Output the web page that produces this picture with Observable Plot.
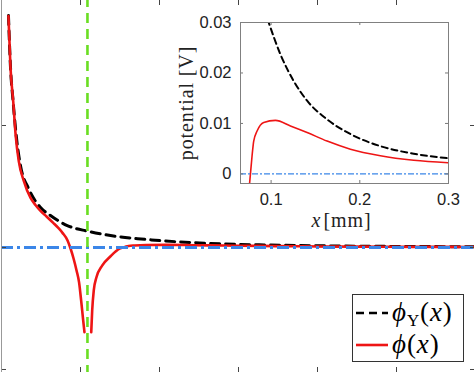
<!DOCTYPE html>
<html><head><meta charset="utf-8">
<script src="https://cdn.jsdelivr.net/npm/d3@7"></script>
<script src="https://cdn.jsdelivr.net/npm/@observablehq/plot@0.6"></script>
<style>
html,body{margin:0;padding:0;background:#fff;}
#wrap{position:relative;width:474px;height:372px;overflow:hidden;background:#fff;}
#main,#inset,#legend{position:absolute;}
#main{left:0;top:0;}
#inset{left:170px;top:0;}
#legend{left:352px;top:294px;width:110px;height:66px;border:1px solid #333;background:#fff;font-family:"Liberation Serif","DejaVu Serif",serif;color:#000;}
#legend .row{position:absolute;left:0;height:30px;width:110px;}
#legend svg{position:absolute;left:2px;top:11px;}
#legend .lab{position:absolute;left:39px;top:0;font-size:27px;line-height:30px;white-space:nowrap;letter-spacing:0.9px;}
#legend sub{font-size:17px;font-style:normal;vertical-align:-5px;line-height:0;}
</style></head><body>
<div id="wrap"><div id="main"></div><div id="inset"></div><div id="legend"></div></div>
<script>
// phi_Y(x): x in mm, potential in V
const phiYX = [0.0044, 0.0057, 0.0073, 0.0099, 0.012, 0.0171, 0.0247, 0.031, 0.0416, 0.0544, 0.069, 0.0861, 0.0973, 0.1105, 0.1255, 0.1406, 0.1631, 0.1894, 0.2232, 0.2608, 0.3];
const phiYV = [0.951, 0.738, 0.602, 0.426, 0.336, 0.242, 0.164, 0.131, 0.090, 0.067, 0.049, 0.036, 0.030, 0.0237, 0.0184, 0.0145, 0.0108, 0.0079, 0.0055, 0.0040, 0.0031];
// phi(x): NaN marks the break at the singular point
const phiX = [0.0044, 0.0057, 0.0074, 0.0089, 0.0109, 0.0141, 0.0184, 0.0215, 0.0247, 0.0285, 0.0329, 0.0361, 0.0386, 0.0418, 0.0437, 0.0456, 0.0475, 0.0491, 0.0504, 0.0517, 0.0525, 0.0546, 0.0568, 0.0574, 0.0584, 0.0601, 0.0637, 0.069, 0.0722, 0.0747, 0.0767, 0.0785, 0.0804, 0.0842, 0.0917, 0.1049, 0.1218, 0.1406, 0.1631, 0.1894, 0.2232, 0.2608, 0.3];
const phiV = [0.949, 0.736, 0.600, 0.465, 0.355, 0.273, 0.203, 0.174, 0.150, 0.127, 0.100, 0.079, 0.060, 0.029, -0.004, -0.045, -0.094, -0.143, -0.217, -0.299, -0.347, NaN, -0.347, -0.258, -0.176, -0.122, -0.074, -0.036, -0.016, -0.0045, 0, 0.0035, 0.0065, 0.0085, 0.0102, 0.0106, 0.0095, 0.0082, 0.0065, 0.0049, 0.0036, 0.0027, 0.0022];
const xMarker = [0.0544];
const baseline = [0];
const mainXDomain = [0, 0.3];
const mainYDomain = [-0.5164, 1.0246];
const mainXTicks = [0.05, 0.1, 0.15, 0.2, 0.25];
const mainYTicks = [-0.5, 0, 0.5];
const insetXDomain = [0.0655, 0.3];
const insetYDomain = [-0.0019, 0.03];
const insetXTicks = [0.1, 0.2, 0.3];
const insetYTicks = [0, 0.01, 0.02, 0.03];
const insetYLabel = "potential [V]";
const insetXLabelVar = "x";
const insetXLabelUnit = "[mm]";
const legendEntries = [
  {html: '<i>ϕ</i><sub>Y</sub>(<i>x</i>)', color: "#000", dash: "8,5"},
  {html: '<i>ϕ</i>(<i>x</i>)', color: "#ee1515", dash: null}
];

const phiY = phiYX.map((x, i) => ({x, v: phiYV[i]}));
const phi = phiX.map((x, i) => ({x, v: phiV[i]}));

const RED = "#ee1515", BLUE = "#3b86e8", GREEN = "#6ade22";
const SERIF = "'Liberation Serif', 'DejaVu Serif', serif";

// main plot
const W = 474, H = 372;
const mTop = -3, mBottom = -1, mLeft = 1, mRight = -1;
const FH = H - mTop - mBottom, FW = W - mLeft - mRight;
const main = Plot.plot({
  width: W, height: H,
  marginLeft: mLeft, marginRight: mRight, marginTop: mTop, marginBottom: mBottom,
  x: {domain: mainXDomain, axis: null},
  y: {domain: mainYDomain, axis: null},
  marks: [
    Plot.line(phiY, {x: "x", y: "v", curve: "monotone-x", stroke: "#000", strokeWidth: 3, strokeDasharray: "9,6"}),
    Plot.line(phi, {x: "x", y: "v", curve: "monotone-x", stroke: RED, strokeWidth: 2.6}),
    Plot.ruleY(baseline, {y: d => d, stroke: BLUE, strokeWidth: 3, strokeDasharray: "12,4,3,4"}),
    Plot.ruleX(xMarker, {x: d => d, stroke: GREEN, strokeWidth: 2.6, strokeDasharray: "10,6"}),
    Plot.ruleX(mainXTicks, {x: d => d, insetBottom: FH - 8, stroke: "#444"}),
    Plot.ruleX(mainXTicks, {x: d => d, insetTop: FH - 6, stroke: "#444"}),
    Plot.ruleY(mainYTicks, {y: d => d, insetRight: FW - 5, stroke: "#444"}),
    Plot.ruleY(mainYTicks, {y: d => d, insetLeft: FW - 5, stroke: "#444"}),
    Plot.frame({stroke: "#999"})
  ]
});
document.getElementById("main").append(main);

// inset
const IW = 300, IH = 235;
const iL = 70, iR = 22, iT = 22, iB = 52;
const IFW = IW - iL - iR, IFH = IH - iT - iB;
const fmt = d => String(d);
const inset = Plot.plot({
  width: IW, height: IH,
  marginLeft: iL, marginRight: iR, marginTop: iT, marginBottom: iB,
  style: {background: "transparent", fontFamily: "'Liberation Sans', Arial, sans-serif", color: "#222"},
  x: {domain: insetXDomain, axis: null},
  y: {domain: insetYDomain, axis: null},
  marks: [
    Plot.frame({fill: "white"}),
    Plot.line(phiY, {x: "x", y: "v", curve: "monotone-x", clip: true, stroke: "#000", strokeWidth: 2, strokeDasharray: "6,4"}),
    Plot.line(phi, {x: "x", y: "v", curve: "monotone-x", clip: true, stroke: RED, strokeWidth: 1.6}),
    Plot.ruleY(baseline, {y: d => d, stroke: BLUE, strokeWidth: 1.3, strokeDasharray: "6,2,2,2"}),
    Plot.ruleX(insetXTicks, {x: d => d, insetBottom: IFH - 3, stroke: "#777"}),
    Plot.ruleX(insetXTicks, {x: d => d, insetTop: IFH - 3, stroke: "#777"}),
    Plot.ruleY(insetYTicks, {y: d => d, insetRight: IFW - 3, stroke: "#777"}),
    Plot.ruleY(insetYTicks, {y: d => d, insetLeft: IFW - 3, stroke: "#777"}),
    Plot.frame({stroke: "#808080"}),
    Plot.axisX(insetXTicks, {tickSize: 0, tickPadding: 10, tickFormat: fmt, fontSize: 16.5, label: null}),
    Plot.axisY(insetYTicks, {tickSize: 0, tickPadding: 9, tickFormat: fmt, fontSize: 16.5, label: null}),
    Plot.text([insetYLabel], {text: d => d, frameAnchor: "left", textAnchor: "middle", rotate: -90, dx: -54, fontSize: 20, fontFamily: SERIF, fill: "#222"}),
    Plot.text([insetXLabelVar], {text: d => d, frameAnchor: "bottom", textAnchor: "middle", dx: -28, dy: 43, fontSize: 20, fontStyle: "italic", fontFamily: SERIF, fill: "#222"}),
    Plot.text([insetXLabelUnit], {text: d => d, frameAnchor: "bottom", textAnchor: "middle", dx: 3, dy: 43, fontSize: 20, fontFamily: SERIF, fill: "#222"})
  ]
});
inset.querySelectorAll("g[font-family]").forEach(g => {
  if (/Serif/.test(g.getAttribute("font-family"))) g.style.letterSpacing = "0.9px";
});
document.getElementById("inset").append(inset);

// legend
const leg = document.getElementById("legend");
legendEntries.forEach((e, i) => {
  const row = document.createElement("div");
  row.className = "row";
  row.style.top = (2 + i * 32) + "px";
  row.innerHTML = `<svg width="34" height="10"><line x1="1" x2="33" y1="5" y2="5" stroke="${e.color}" stroke-width="2.6" ${e.dash ? `stroke-dasharray="${e.dash}"` : ""}/></svg><span class="lab">${e.html}</span>`;
  leg.append(row);
});
</script>
</body></html>
